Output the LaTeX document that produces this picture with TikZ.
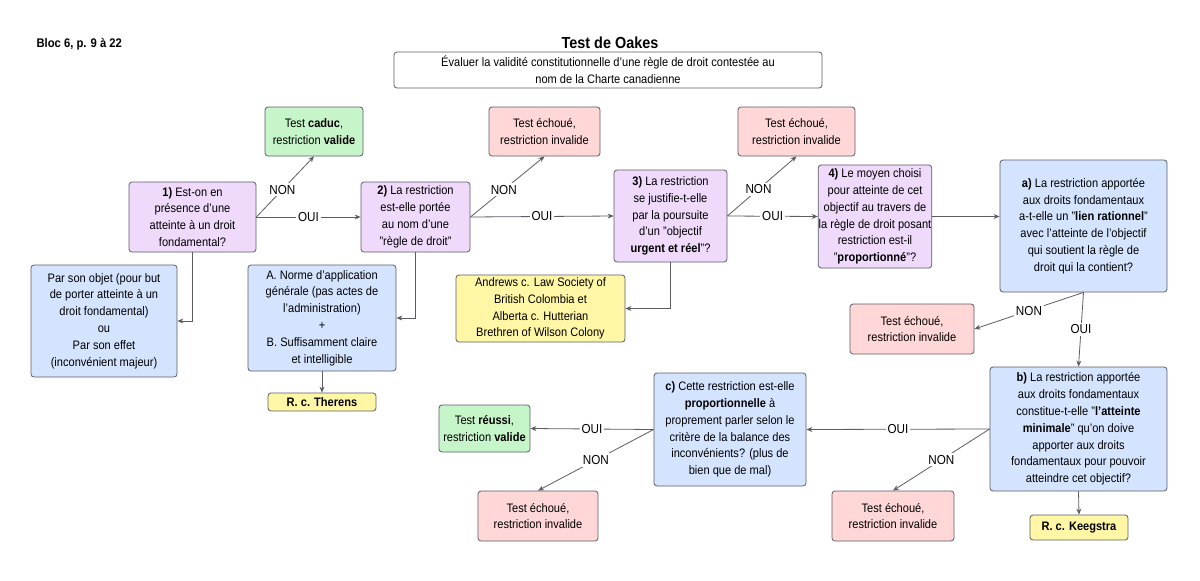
\documentclass[tikz,border=0pt]{standalone}
\usepackage{fontspec}
\setmainfont{Liberation Sans}[FakeStretch=0.9]
\usetikzlibrary{arrows.meta}
\definecolor{pur}{HTML}{F0DAFC}
\definecolor{grn}{HTML}{C6F5C9}
\definecolor{pnk}{HTML}{FFD7D7}
\definecolor{blu}{HTML}{D4E4FF}
\definecolor{yel}{HTML}{FFF7A6}
\definecolor{edg}{HTML}{5C5C66}
\tikzset{
 box/.style={draw=edg,line width=0.8pt,rounded corners=3pt,align=center,inner sep=0.5pt,
   font=\fontsize{12.3}{16.8}\selectfont},
 pbox/.style={box,fill=pur},
 gbox/.style={box,fill=grn},
 rbox/.style={box,fill=pnk},
 bbox/.style={box,fill=blu},
 ybox/.style={box,fill=yel},
 lab/.style={fill=white,inner sep=2pt,font=\fontsize{13}{14}\selectfont},
 con/.style={draw=edg,line width=0.8pt,-{Stealth[length=6pt,width=5pt]}},
}
\newcommand{\bx}[7]{% style,name,l,t,r,b,text
 \node[#1,minimum width=#5-#3,minimum height=#6-#4] (#2) at ({(#3+#5)/2},{(#4+#6)/2}) {#7};}
\begin{document}
\begin{tikzpicture}[x=1pt,y=-1pt]
\useasboundingbox (0,0) rectangle (1200,581);
\node[anchor=west,font=\fontsize{12.5}{13}\selectfont\bfseries] (bloc) at (33,44) {Bloc 6, p. 9 à 22};
\node[font=\fontsize{16}{16}\selectfont\bfseries] (title) at (610,43) {Test de Oakes};
\bx{box}{sub}{394}{52}{822}{88}{Évaluer la validité constitutionnelle d'une règle de droit contestée au\\nom de la Charte canadienne}
\bx{gbox}{caduc}{265}{107}{363}{156}{Test \textbf{caduc},\\restriction \textbf{valide}}
\bx{pbox}{q1}{129}{182}{256}{252}{\textbf{1)} Est-on en\\présence d'une\\atteinte à un droit\\fondamental?}
\bx{bbox}{objet}{31}{265}{177}{377}{Par son objet (pour but\\de porter atteinte à un\\droit fondamental)\\ou\\Par son effet\\(inconvénient majeur)}
\bx{pbox}{q2}{361}{182}{470}{252}{\textbf{2)} La restriction\\est-elle portée\\au nom d'une\\"règle de droit"}
\bx{rbox}{e1}{489}{107}{600}{156}{Test échoué,\\restriction invalide}
\bx{bbox}{norme}{248}{265}{396}{371}{A. Norme d'application\\générale (pas actes de\\l'administration)\\+\\B. Suffisamment claire\\et intelligible}
\bx{ybox}{therens}{268}{393}{376}{411}{\textbf{R. c. Therens}}
\bx{pbox}{q3}{614}{170}{727}{262}{\textbf{3)} La restriction\\se justifie-t-elle\\par la poursuite\\d'un "objectif\\\textbf{urgent et réel}"?}
\bx{ybox}{andrews}{456}{275}{625}{342}{Andrews c. Law Society of\\British Colombia et\\Alberta c. Hutterian\\Brethren of Wilson Colony}
\bx{rbox}{e2}{738}{107}{855}{156}{Test échoué,\\restriction invalide}
\bx{pbox}{q4}{825}{165}{925}{268}{\textbf{4)} Le moyen choisi\\pour atteinte de cet\\objectif au travers de\\la règle de droit posant\\restriction est-il\\"\textbf{proportionné}"?}
\bx{bbox}{qa}{1000}{160}{1167}{292}{\textbf{a)} La restriction apportée\\aux droits fondamentaux\\a-t-elle un "\textbf{lien rationnel}"\\avec l'atteinte de l'objectif\\qui soutient la règle de\\droit qui la contient?}
\bx{rbox}{e3}{850}{304}{974}{354}{Test échoué,\\restriction invalide}
\bx{bbox}{qb}{990}{367}{1167}{491}{\textbf{b)} La restriction apportée\\aux droits fondamentaux\\constitue-t-elle "\textbf{l'atteinte}\\\textbf{minimale}" qu'on doive\\apporter aux droits\\fondamentaux pour pouvoir\\atteindre cet objectif?}
\bx{ybox}{keeg}{1030}{515}{1128}{540}{\textbf{R. c. Keegstra}}
\bx{bbox}{qc}{654}{373}{806}{486}{\textbf{c)} Cette restriction est-elle\\\textbf{proportionnelle} à\\proprement parler selon le\\critère de la balance des\\inconvénients? (plus de\\bien que de mal)}
\bx{gbox}{reussi}{439}{405}{530}{452}{Test \textbf{réussi},\\restriction \textbf{valide}}
\bx{rbox}{e4}{478}{491}{598}{541}{Test échoué,\\restriction invalide}
\bx{rbox}{e5}{832}{491}{954}{541}{Test échoué,\\restriction invalide}
% connectors
\draw[con] (q1.east) -- node[lab]{OUI} (q2.west);
\draw[con] (q1.east) -- node[lab,pos=0.45]{NON} (caduc.south);
\draw[con] (q1.south) |- (objet.east);
\draw[con] (q2.south) |- (norme.east);
\draw[con] (norme.south) -- (therens.north);
\draw[con] (q2.east) -- node[lab]{OUI} (q3.west);
\draw[con] (q2.east) -- node[lab,pos=0.45]{NON} (e1.south);
\draw[con] (q3.south) |- (andrews.east);
\draw[con] (q3.east) -- node[lab]{OUI} (q4.west);
\draw[con] (q3.east) -- node[lab,pos=0.45]{NON} (e2.south);
\draw[con] (q4.east) -- (qa.west |- q4.east);
\draw[con] (qa.south) -- node[lab]{OUI} (qb.north);
\draw[con] (qa.south) -- node[lab]{NON} (e3.east);
\draw[con] (qb.west) -- node[lab]{OUI} (qc.east);
\draw[con] (qb.west) -- node[lab]{NON} (e5.north);
\draw[con] (qb.south) -- (keeg.north);
\draw[con] (qc.west) -- node[lab]{OUI} (reussi.east);
\draw[con] (qc.west) -- node[lab]{NON} (e4.north);
\end{tikzpicture}
\end{document}
